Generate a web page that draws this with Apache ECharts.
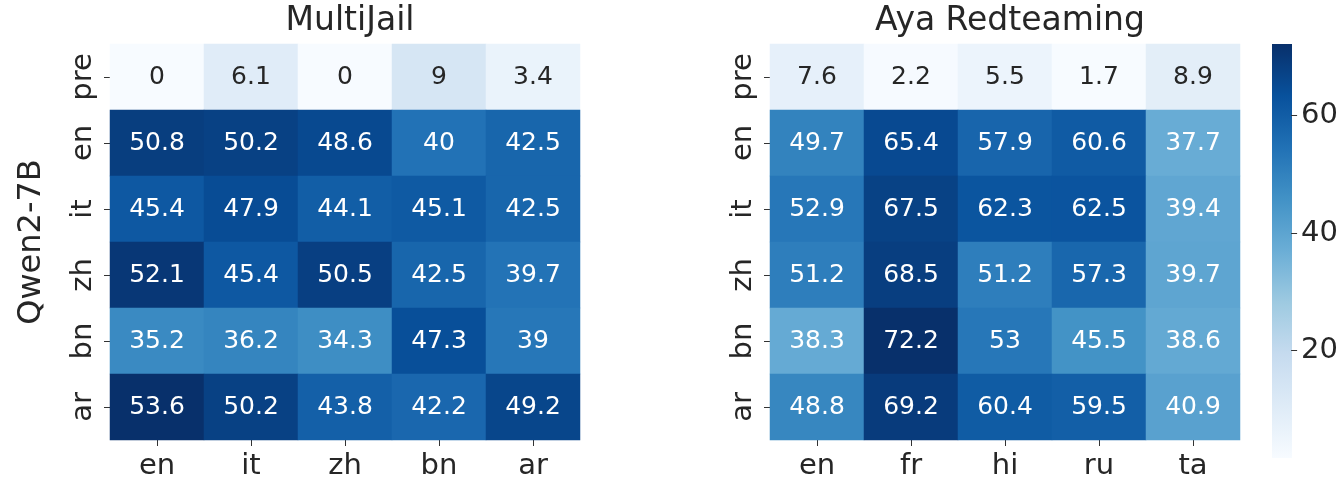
<!DOCTYPE html>
<html><head><meta charset="utf-8">
<script src="https://cdn.jsdelivr.net/npm/echarts@6/dist/echarts.min.js"></script>
<style>html,body{margin:0;background:#fff}#c{width:1341px;height:492px}</style>
</head><body><div id="c"></div>
<script>
// row labels shared by both panels
var rows = ['pre', 'en', 'it', 'zh', 'bn', 'ar'];
var mjCols = ['en', 'it', 'zh', 'bn', 'ar'];
var ayaCols = ['en', 'fr', 'hi', 'ru', 'ta'];
var mjVals = [
  [0, 6.1, 0, 9, 3.4],
  [50.8, 50.2, 48.6, 40, 42.5],
  [45.4, 47.9, 44.1, 45.1, 42.5],
  [52.1, 45.4, 50.5, 42.5, 39.7],
  [35.2, 36.2, 34.3, 47.3, 39],
  [53.6, 50.2, 43.8, 42.2, 49.2]
];
var ayaVals = [
  [7.6, 2.2, 5.5, 1.7, 8.9],
  [49.7, 65.4, 57.9, 60.6, 37.7],
  [52.9, 67.5, 62.3, 62.5, 39.4],
  [51.2, 68.5, 51.2, 57.3, 39.7],
  [38.3, 72.2, 53, 45.5, 38.6],
  [48.8, 69.2, 60.4, 59.5, 40.9]
];
var cbTicks = [20, 40, 60];
var mjMin = 0, mjMax = 53.6;
var vmin = 1.7, vmax = 72.2;
var blues = ['#f7fbff','#deebf7','#c6dbef','#9ecae1','#6baed6','#4292c6','#2171b5','#08519c','#08306b'];
var font = 'DejaVu Sans';

function toData(vals, lo, hi) {
  var out = [];
  vals.forEach(function (r, i) {
    r.forEach(function (v, j) {
      out.push({ value: [j, i, v], label: { color: (v - lo) / (hi - lo) > 0.4 ? '#fff' : '#262626' } });
    });
  });
  return out;
}

function xAx(idx, cols) {
  return { type: 'category', gridIndex: idx, data: cols, position: 'bottom',
    axisLine: { show: false }, axisTick: { show: true, alignWithLabel: true, length: 6, lineStyle: { color: '#333' } },
    axisLabel: { fontSize: 29, color: '#262626', fontFamily: font, margin: 12 }, splitArea: { show: false } };
}
function yAx(idx) {
  return { type: 'category', gridIndex: idx, data: rows, inverse: true,
    axisLine: { show: false }, axisTick: { show: true, alignWithLabel: true, length: 6, lineStyle: { color: '#333' } },
    axisLabel: { fontSize: 29, color: '#262626', fontFamily: font, rotate: 90, margin: 12 } };
}
var lbl = { show: true, fontSize: 25, fontFamily: font, formatter: function (p) { return p.value[2]; } };

var chart = echarts.init(document.getElementById('c'));
chart.setOption({
  backgroundColor: '#fff',
  animation: false,
  title: [
    { text: 'MultiJail', left: 345, top: 0, textAlign: 'center', textStyle: { fontSize: 33, fontWeight: 'normal', color: '#262626', fontFamily: font } },
    { text: 'Aya Redteaming', left: 1005, top: 0, textAlign: 'center', textStyle: { fontSize: 33, fontWeight: 'normal', color: '#262626', fontFamily: font } }
  ],
  grid: [
    { left: 110, top: 44, width: 470, height: 396 },
    { left: 770, top: 44, width: 470, height: 396 },
    { left: 1272, top: 44, width: 20, height: 414 }
  ],
  xAxis: [xAx(0, mjCols), xAx(1, ayaCols),
    { type: 'category', gridIndex: 2, data: ['c'], show: false }],
  yAxis: [
    Object.assign(yAx(0), { name: 'Qwen2-7B', nameLocation: 'middle', nameGap: 62, nameRotate: 90,
      nameTextStyle: { fontSize: 32, color: '#262626', fontFamily: font } }),
    yAx(1),
    { type: 'value', gridIndex: 2, min: vmin, max: vmax, position: 'right', splitLine: { show: false },
      axisLine: { show: false },
      axisTick: { show: true, length: 6, customValues: cbTicks, lineStyle: { color: '#333' } },
      axisLabel: { fontSize: 29, color: '#262626', fontFamily: font, margin: 10, customValues: cbTicks } }
  ],
  visualMap: [
    { show: false, min: mjMin, max: mjMax, dimension: 2, seriesIndex: 0, inRange: { color: blues } },
    { show: false, min: vmin, max: vmax, dimension: 2, seriesIndex: 1, inRange: { color: blues } }
  ],
  graphic: [{
    type: 'rect', shape: { x: 1272, y: 44, width: 20, height: 414 },
    style: { fill: new echarts.graphic.LinearGradient(0, 1, 0, 0,
      blues.map(function (c, i) { return { offset: i / (blues.length - 1), color: c }; })) }
  }],
  series: [
    { type: 'heatmap', xAxisIndex: 0, yAxisIndex: 0, data: toData(mjVals, mjMin, mjMax), label: lbl, emphasis: { disabled: true } },
    { type: 'heatmap', xAxisIndex: 1, yAxisIndex: 1, data: toData(ayaVals, vmin, vmax), label: lbl, emphasis: { disabled: true } }
  ]
});
</script></body></html>
